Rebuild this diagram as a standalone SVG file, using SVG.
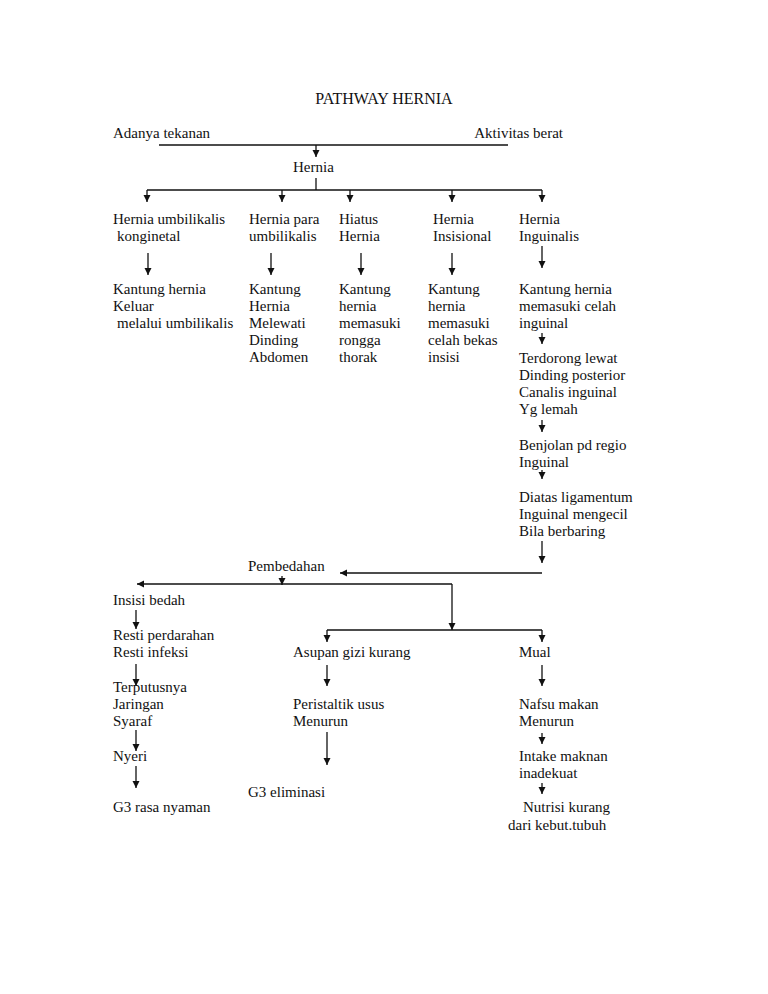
<svg xmlns="http://www.w3.org/2000/svg" width="768" height="994" viewBox="0 0 768 994">
<style>
text{font-family:"Liberation Serif","Times New Roman",serif;font-size:15px;fill:#111}
.c line,.c path{stroke:#111;stroke-width:1.3;fill:none}
.c .a{marker-end:url(#ah)}
</style>
<defs>
<marker id="ah" markerUnits="userSpaceOnUse" markerWidth="8" markerHeight="8" refX="7" refY="3.5" orient="auto">
<path d="M0,0 L7,3.5 L0,7 z" fill="#111"/>
</marker>
</defs>
<rect width="768" height="994" fill="#fff"/>
<g id="title"><text x="384" y="104" text-anchor="middle" style="font-size:16px">PATHWAY HERNIA</text></g>
<g id="n-tekanan"><text x="113" y="138">Adanya tekanan</text></g>
<g id="n-aktivitas"><text x="563" y="138" text-anchor="end">Aktivitas berat</text></g>
<g id="n-hernia"><text x="293" y="172">Hernia</text></g>
<g id="n-umb"><text x="113" y="224">Hernia umbilikalis</text><text x="117" y="241">konginetal</text></g>
<g id="n-para"><text x="249" y="224">Hernia para</text><text x="249" y="241">umbilikalis</text></g>
<g id="n-hiatus"><text x="339" y="224">Hiatus</text><text x="339" y="241">Hernia</text></g>
<g id="n-insisional"><text x="433" y="224">Hernia</text><text x="433" y="241">Insisional</text></g>
<g id="n-inguinalis"><text x="519" y="224">Hernia</text><text x="519" y="241">Inguinalis</text></g>
<g id="n-k1"><text x="113" y="294">Kantung hernia</text><text x="113" y="311">Keluar</text><text x="117" y="328">melalui umbilikalis</text></g>
<g id="n-k2"><text x="249" y="294">Kantung</text><text x="249" y="311">Hernia</text><text x="249" y="328">Melewati</text><text x="249" y="345">Dinding</text><text x="249" y="362">Abdomen</text></g>
<g id="n-k3"><text x="339" y="294">Kantung</text><text x="339" y="311">hernia</text><text x="339" y="328">memasuki</text><text x="339" y="345">rongga</text><text x="339" y="362">thorak</text></g>
<g id="n-k4"><text x="428" y="294">Kantung</text><text x="428" y="311">hernia</text><text x="428" y="328">memasuki</text><text x="428" y="345">celah bekas</text><text x="428" y="362">insisi</text></g>
<g id="n-k5"><text x="519" y="294">Kantung hernia</text><text x="519" y="311">memasuki celah</text><text x="519" y="328">inguinal</text></g>
<g id="n-terdorong"><text x="519" y="363">Terdorong lewat</text><text x="519" y="380">Dinding posterior</text><text x="519" y="397">Canalis inguinal</text><text x="519" y="414">Yg lemah</text></g>
<g id="n-benjolan"><text x="519" y="450">Benjolan pd regio</text><text x="519" y="467">Inguinal</text></g>
<g id="n-diatas"><text x="519" y="502">Diatas ligamentum</text><text x="519" y="519">Inguinal mengecil</text><text x="519" y="536">Bila berbaring</text></g>
<g id="n-pembedahan"><text x="248" y="571">Pembedahan</text></g>
<g id="n-insisi"><text x="113" y="605">Insisi bedah</text></g>
<g id="n-resti"><text x="113" y="640">Resti perdarahan</text><text x="113" y="657">Resti infeksi</text></g>
<g id="n-terputus"><text x="113" y="692">Terputusnya</text><text x="113" y="709">Jaringan</text><text x="113" y="726">Syaraf</text></g>
<g id="n-nyeri"><text x="113" y="761">Nyeri</text></g>
<g id="n-g3nyaman"><text x="113" y="812">G3 rasa nyaman</text></g>
<g id="n-asupan"><text x="293" y="657">Asupan gizi kurang</text></g>
<g id="n-peristaltik"><text x="293" y="709">Peristaltik usus</text><text x="293" y="726">Menurun</text></g>
<g id="n-g3elim"><text x="248" y="797">G3 eliminasi</text></g>
<g id="n-mual"><text x="519" y="657">Mual</text></g>
<g id="n-nafsu"><text x="519" y="709">Nafsu makan</text><text x="519" y="726">Menurun</text></g>
<g id="n-intake"><text x="519" y="761">Intake maknan</text><text x="519" y="778">inadekuat</text></g>
<g id="n-nutrisi"><text x="523" y="812">Nutrisi kurang</text><text x="508" y="830">dari kebut.tubuh</text></g>
<g id="connectors" class="c">
<line x1="159" y1="145" x2="508" y2="145"/>
<line class="a" x1="316" y1="145" x2="316" y2="157"/>
<line x1="316" y1="178" x2="316" y2="190"/>
<line x1="147" y1="190" x2="542" y2="190"/>
<line class="a" x1="147" y1="190" x2="147" y2="202"/>
<line class="a" x1="282" y1="190" x2="282" y2="202"/>
<line class="a" x1="350" y1="190" x2="350" y2="202"/>
<line class="a" x1="452" y1="190" x2="452" y2="202"/>
<line class="a" x1="542" y1="190" x2="542" y2="202"/>
<line class="a" x1="148" y1="253" x2="148" y2="275"/>
<line class="a" x1="271" y1="253" x2="271" y2="275"/>
<line class="a" x1="361" y1="253" x2="361" y2="275"/>
<line class="a" x1="452" y1="253" x2="452" y2="275"/>
<line class="a" x1="542" y1="246" x2="542" y2="268"/>
<line class="a" x1="542" y1="333" x2="542" y2="344"/>
<line class="a" x1="542" y1="420" x2="542" y2="432"/>
<line class="a" x1="542" y1="470" x2="542" y2="479"/>
<line class="a" x1="542" y1="541" x2="542" y2="563"/>
<line class="a" x1="542" y1="573" x2="340" y2="573"/>
<line class="a" x1="282" y1="576" x2="282" y2="585"/>
<line class="a" x1="452" y1="584" x2="137" y2="584"/>
<line class="a" x1="452" y1="584" x2="452" y2="630"/>
<line x1="327" y1="630" x2="542" y2="630"/>
<line class="a" x1="327" y1="630" x2="327" y2="642"/>
<line class="a" x1="542" y1="630" x2="542" y2="642"/>
<line class="a" x1="136" y1="610" x2="136" y2="629"/>
<line class="a" x1="136" y1="664" x2="136" y2="686"/>
<line class="a" x1="136" y1="730" x2="136" y2="751"/>
<line class="a" x1="136" y1="766" x2="136" y2="788"/>
<line class="a" x1="327" y1="665" x2="327" y2="686"/>
<line class="a" x1="327" y1="732" x2="327" y2="765"/>
<line class="a" x1="542" y1="665" x2="542" y2="686"/>
<line class="a" x1="542" y1="733" x2="542" y2="744"/>
<line class="a" x1="542" y1="783" x2="542" y2="794"/>
</g>
</svg>
